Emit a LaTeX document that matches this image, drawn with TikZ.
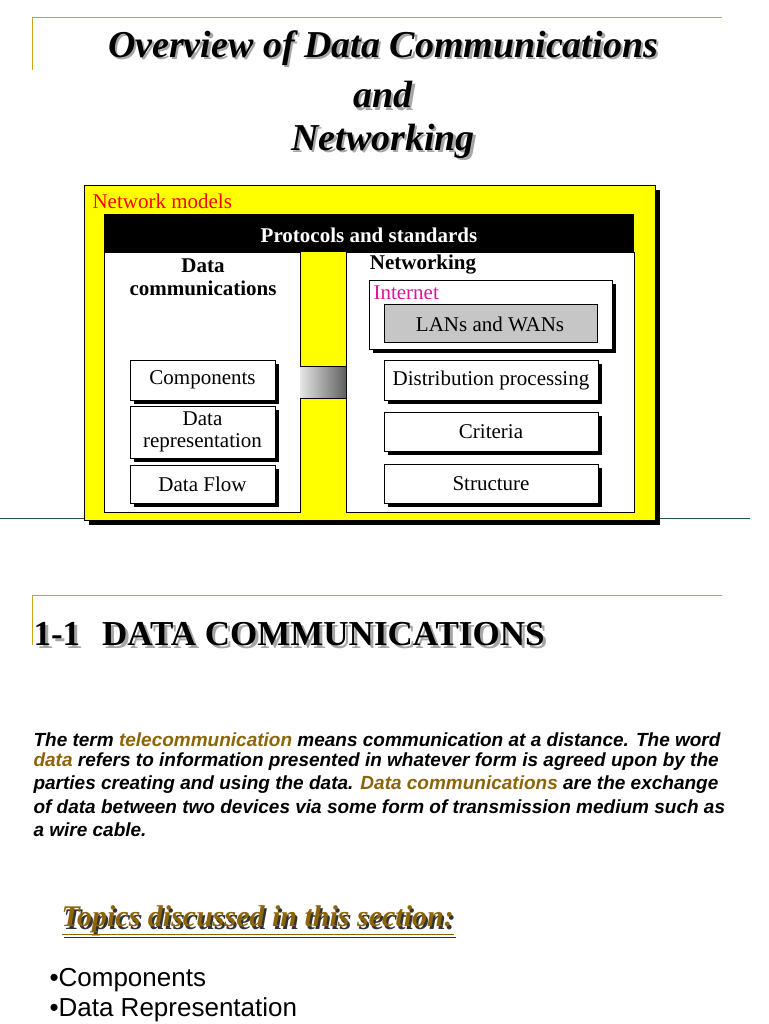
\documentclass[tikz,border=0pt]{standalone}
\usepackage{fontspec}
\setmainfont{Liberation Serif}
\newfontfamily\arial{Liberation Sans}
\definecolor{gold}{HTML}{D4A017}
\definecolor{brn}{HTML}{8B6508}
\definecolor{dgreen}{HTML}{1E5A32}
\definecolor{yel}{HTML}{FFFF00}
\definecolor{mag}{HTML}{E0149A}
\tikzset{
  fs/.style={font=\fontsize{#1}{#1}\selectfont}
}
\usetikzlibrary{calc}
\begin{document}
\begin{tikzpicture}[x=1pt,y=-1pt]
\useasboundingbox[fill=white] (0,0) rectangle (768,1024);
% top rules
\draw[gold,line width=1pt] (32,70) -- (32,18) -- (722,18);
\draw[gold,line width=1pt] (32,645) -- (32,595) -- (722,595);
% title
\foreach \t/\y in {{Overview of Data Communications}/48,{and}/95,{Networking}/141}{
  \node[text=gray!70,font=\fontsize{38}{40}\selectfont\bfseries\itshape] at (385.5,\y+2.5) {\t};
  \node[font=\fontsize{38}{40}\selectfont\bfseries\itshape] at (383,\y) {\t};
}
% green line
\draw[dgreen,line width=1pt] (0,518) -- (750,518);
% yellow box
\fill[black] (89,190) rectangle (660,525);
\draw[fill=yel,line width=0.8pt] (84,185) rectangle (655,520);
\node[anchor=west,text=red,fs=21] (nm) at (89,201) {Network models};
\fill[black] (104,214) rectangle (634,252);
\node[text=white,font=\fontsize{21}{23}\selectfont\bfseries] (ps) at (369,235) {Protocols and standards};
\draw[fill=white,line width=0.8pt] (104,252) rectangle (300,512);
\draw[fill=white,line width=0.8pt] (346,252) rectangle (634,512);
\node[align=center,font=\fontsize{21}{23}\selectfont\bfseries] (dc) at (203,277) {Data\\communications};
\node[font=\fontsize{21}{23}\selectfont\bfseries] (nw) at (423,265) {Networking};
% connector
\shade[left color=gray!20,right color=gray!75!black] (300,366) rectangle (346,398);
\draw[line width=0.6pt] (300,366) -- (346,366) (300,398) -- (346,398);
% internet box
\fill[black] (373,284) rectangle (616,353);
\draw[fill=white,line width=0.8pt] (369,280) rectangle (612,349);
\node[anchor=west,text=mag,fs=21] (inet) at (370,293) {Internet};
\draw[fill=gray!45,line width=0.8pt] (384,304) rectangle (597,342);
\node[fs=21] (lan) at (490,324) {LANs and WANs};
% left boxes
\foreach \n/\t/\a/\b in {comp/Components/360/400,drep/{Data\\representation}/406/458,dflow/{Data Flow}/465/503}{
  \fill[black] (134,\a+4) rectangle (279,\b+4);
  \draw[fill=white,line width=0.8pt] (130,\a) rectangle (275,\b);
  \node[align=center,font=\fontsize{21}{22}\selectfont] (\n) at (202.5,{(\a+\b)/2}) {\t};
}
\foreach \n/\t/\a/\b in {dist/{Distribution processing}/360/400,crit/Criteria/412/451,struc/Structure/464/503}{
  \fill[black] (388,\a+4) rectangle (602,\b+4);
  \draw[fill=white,line width=0.8pt] (384,\a) rectangle (598,\b);
  \node[fs=21] (\n) at (491,{(\a+\b)/2}) {\t};
}
% section heading
\node[anchor=west,text=gray!70,font=\fontsize{35}{37}\selectfont\bfseries] at (33,637) {1-1\hspace{22pt}DATA COMMUNICATIONS};
\node[anchor=west,font=\fontsize{35}{37}\selectfont\bfseries] (sec) at (30,634) {1-1\hspace{22pt}DATA COMMUNICATIONS};
% paragraph
\begin{scope}[every node/.style={anchor=west,font=\arial\fontsize{19}{21}\selectfont\bfseries\itshape}]
\node (p1) at (30,740) {The term \textcolor{brn}{telecommunication} means communication at a distance. The word};
\node (p2) at (30,762) {\textcolor{brn}{data} refers to information presented in whatever form is agreed upon by the};
\node (p3) at (30,785) {parties creating and using the data. \textcolor{brn}{Data communications} are the exchange};
\node (p4) at (30,807) {of data between two devices via some form of transmission medium such as};
\node (p5) at (30,830) {a wire cable.};
\end{scope}
% topics
\node[anchor=west,text=black!80,font=\fontsize{30}{32}\selectfont\bfseries\itshape] at (60,923) {\underline{Topics discussed in this section:}};
\node[anchor=west,text=brn,font=\fontsize{30}{32}\selectfont\bfseries\itshape] (top) at (58,920) {\underline{Topics discussed in this section:}};
\node[anchor=west,font=\arial\fontsize{26}{28}\selectfont] (b1) at (46,980) {\textbullet Components};
\node[anchor=west,font=\arial\fontsize{26}{28}\selectfont] (b2) at (46,1010) {\textbullet Data Representation};
\end{tikzpicture}
\end{document}
